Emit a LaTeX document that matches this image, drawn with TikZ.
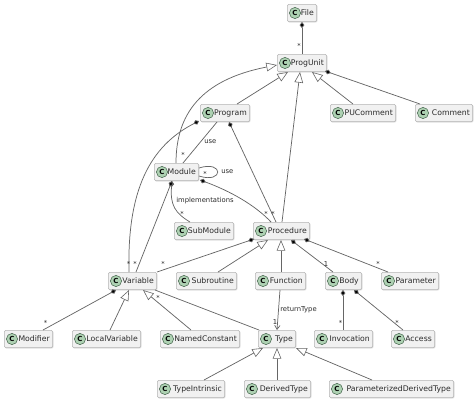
\documentclass[tikz,border=0pt]{standalone}
\usepackage{fontspec}
\setmainfont{DejaVu Sans}
\usetikzlibrary{arrows.meta,calc}
\definecolor{boxfill}{HTML}{F1F1F1}
\definecolor{boxline}{HTML}{B4B4B4}
\definecolor{boxshade}{HTML}{DADADA}
\definecolor{edgecol}{HTML}{666666}
\definecolor{iconfill}{HTML}{ADD1B2}
\definecolor{iconline}{HTML}{4A6A52}
\definecolor{txt}{HTML}{2A2A2A}
\tikzset{
  cls/.style={draw=boxline,fill=boxfill,line width=0.5pt,rounded corners=1pt,inner xsep=1.9pt,inner ysep=0pt,
    align=right,text=txt,font=\fontsize{5.8}{7}\selectfont,text height=4.6pt,text depth=0.2pt,anchor=center,
    preaction={draw=none,fill=boxshade,transform canvas={shift={(0.6pt,-0.6pt)}}}},
  cicon/.style={circle,draw=iconline,fill=iconfill,line width=0.4pt,minimum size=8.4pt,inner sep=0pt,text=black,
    font=\fontsize{5.2}{6}\selectfont\bfseries},
  edge/.style={draw=edgecol,line width=0.55pt},
  gen/.style={edge,-{Triangle[open,fill=white,length=8pt,width=6.5pt,line width=0.45pt]}},
  comp/.style={edge,{Diamond[fill=black,length=4.6pt,width=3.6pt]}-},
  compn/.style={edge},
  opn/.style={edge,-{Straight Barb[length=3pt,width=4pt]}},
  mult/.style={inner sep=0pt,text=txt,font=\fontsize{5.1}{6}\selectfont},
  lbl/.style={inner sep=0pt,text=txt,font=\fontsize{5.1}{7}\selectfont}
}
\newcommand\cls[6]{%
  \pgfmathsetmacro\bw{(#4-#2)*0.75-0.5}%
  \pgfmathsetmacro\bh{(#5-#3)*0.75-0.5}%
  \pgfmathsetmacro\tw{\bw-3.8-0.5}%
  \node[cls,minimum width=\bw pt,minimum height=\bh pt,text width=\tw pt] (#1) at ({(#2+#4)/2},{(#3+#5)/2}) {#6};
  \node[cicon] (#1icon) at ($(#1.west)+(8,0)$) {C};
}
\begin{document}
\begin{tikzpicture}[x=0.75pt,y=-0.75pt]
\useasboundingbox (0,0) rectangle (474,401);
% nodes
\cls{file}{287}{4}{317}{22}{File}
\cls{progunit}{277}{54}{327}{72}{ProgUnit}
\cls{program}{200}{104}{250}{122}{Program}
\cls{pucomment}{330}{104}{396}{122}{PUComment}
\cls{comment}{415}{104}{473}{122}{Comment}
\cls{module}{154}{163}{199}{181}{Module}
\cls{submodule}{174}{222}{234}{240}{SubModule}
\cls{procedure}{253}{222}{310}{240}{Procedure}
\cls{variable}{108}{272}{157}{290}{Variable}
\cls{subroutine}{176}{272}{237}{290}{Subroutine}
\cls{function}{255}{272}{306}{290}{Function}
\cls{body}{325}{272}{362}{290}{Body}
\cls{parameter}{381}{272}{439}{290}{Parameter}
\cls{modifier}{4}{330}{53}{348}{Modifier}
\cls{localvariable}{72}{330}{141}{348}{LocalVariable}
\cls{namedconstant}{160}{330}{240}{348}{NamedConstant}
\cls{type}{258}{330}{296}{348}{Type}
\cls{invocation}{314}{330}{373}{348}{Invocation}
\cls{access}{391}{330}{435}{348}{Access}
\cls{typeintrinsic}{157}{380}{225}{398}{TypeIntrinsic}
\cls{derivedtype}{244}{380}{311}{398}{DerivedType}
\cls{pdt}{329}{380}{454}{398}{ParameterizedDerivedType}
% composition
\draw[comp] ($(file.south west)+(15,0)$) -- ($(progunit.north west)+(25,0)$);
\draw[comp] ($(progunit.south east)+(-2,-1)$) -- ($(comment.north west)+(5,0)$);
\draw[comp] ($(program.south west)+(-1,-1)$) .. controls (150,146) and (127,190) .. ($(variable.north west)+(21,0)$);
\draw[comp] ($(program.south west)+(29,0)$) -- ($(procedure.north west)+(23,0)$);
\draw[comp] ($(module.south west)+(18,0)$) .. controls (170,205) and (175,213) .. ($(submodule.north west)+(16,0)$);
\draw[comp] ($(module.south west)+(18,0)$) -- ($(variable.north west)+(28,0)$);
\draw[comp] ($(module.south east)+(1,-1)$) .. controls (230,191) and (255,205) .. ($(procedure.north west)+(18,0)$);
\draw[comp] ($(procedure.south west)+(1,-1)$) -- ($(variable.north east)+(0,0)$);
\draw[comp] ($(procedure.south west)+(38,0)$) -- ($(body.north west)+(8,0)$);
\draw[comp] ($(procedure.south east)+(-6,-1)$) -- ($(parameter.north west)+(7,0)$);
\draw[comp] ($(body.south west)+(18,0)$) -- ($(invocation.north west)+(29,0)$);
\draw[comp] ($(body.south east)+(-8,0)$) -- ($(access.north west)+(12,0)$);
\draw[comp] ($(variable.south west)+(8,0)$) -- ($(modifier.north west)+(39,0)$);
% generalisation
\draw[gen] ($(module.north west)+(22,0)$) .. controls (176,115) and (200,80) .. ($(progunit.west)+(0,2)$);
\draw[gen] ($(program.north west)+(37,0)$) -- ($(progunit.south west)+(11,0)$);
\draw[gen] ($(procedure.north west)+(29,0)$) -- ($(progunit.south west)+(23,0)$);
\draw[gen] ($(pucomment.north west)+(23,0)$) -- ($(progunit.south east)+(-15,0)$);
\draw[gen] ($(subroutine.north west)+(42,0)$) -- ($(procedure.south west)+(15,0)$);
\draw[gen] ($(function.north west)+(26,0)$) -- ($(procedure.south west)+(28,0)$);
\draw[gen] ($(localvariable.north west)+(38,0)$) -- ($(variable.south west)+(21,0)$);
\draw[gen] ($(namedconstant.north west)+(31,0)$) -- ($(variable.south east)+(-14,0)$);
\draw[gen] ($(typeintrinsic.north west)+(47,0)$) -- ($(type.south west)+(5,0)$);
\draw[gen] ($(derivedtype.north west)+(33,0)$) -- ($(type.south west)+(19,0)$);
\draw[gen] ($(pdt.north west)+(43,0)$) -- ($(type.south east)+(0,0)$);
% plain associations
\draw[compn] ($(program.south west)+(17,0)$) -- ($(module.north west)+(29,0)$);
\draw[compn] ($(module.east)+(0,-4)$) .. controls (224,160) and (224,184) .. ($(module.east)+(0,4)$);
\draw[compn] ($(variable.south east)+(-2,0)$) -- ($(type.north west)+(1,0)$);
\draw[opn] ($(function.south west)+(25,0)$) -- ($(type.north west)+(19,0)$);
% multiplicities
\node[mult] (m1) at (299,45.5) {*};
\node[mult] (m2) at (183,154.5) {*};
\node[mult] (m3) at (205,173.5) {*};
\node[mult] (m4) at (182,213.5) {*};
\node[mult] (m5) at (266,213.5) {*};
\node[mult] (m6) at (273,213.5) {*};
\node[mult] (m7) at (128.5,263.5) {*};
\node[mult] (m8) at (135,263.5) {*};
\node[mult] (m9) at (163,263.5) {*};
\node[mult] (m10) at (326,264) {1};
\node[mult] (m11) at (378,263.5) {*};
\node[mult] (m12) at (45.5,322.5) {*};
\node[mult] (m13) at (158,297.5) {*};
\node[mult] (m14) at (275,322) {1};
\node[mult] (m15) at (340.5,322.5) {*};
\node[mult] (m16) at (397,322.5) {*};
% labels
\node[lbl,anchor=west] (l1) at (204,142) {use};
\node[lbl,anchor=west] (l2) at (221,171.5) {use};
\node[lbl,anchor=west] (l3) at (176,201) {implementations};
\node[lbl,anchor=west] (l4) at (280,310) {returnType};
\end{tikzpicture}
\end{document}
